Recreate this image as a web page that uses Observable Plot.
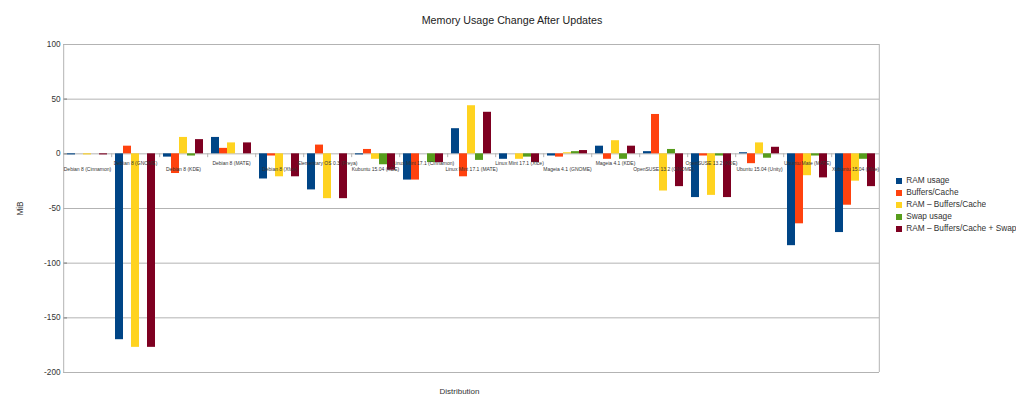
<!DOCTYPE html>
<html>
<head>
<meta charset="utf-8">
<script src="https://cdn.jsdelivr.net/npm/d3@7"></script>
<script src="https://cdn.jsdelivr.net/npm/@observablehq/plot@0.6"></script>
<style>
  html, body { margin: 0; padding: 0; background: #fff; }
  #wrap { position: relative; width: 1024px; height: 409px; font-family: "Liberation Sans", Arial, sans-serif; }
  #title { position: absolute; top: 14px; left: 0; width: 1024px; text-align: center; font-size: 10.7px; line-height: 13px; color: #222; }
  #legend { position: absolute; left: 896px; top: 175px; }
  #legend div { line-height: 11px; }
</style>
</head>
<body>
<div id="wrap">
  <div id="chart"></div>
  <div id="title">Memory Usage Change After Updates</div>
  <div id="legend"></div>
</div>
<script>
const categories = [
  "Debian 8 (Cinnamon)", "Debian 8 (GNOME)", "Debian 8 (KDE)", "Debian 8 (MATE)", "Debian 8 (Xfce)",
  "Elementary OS 0.3 (Freya)", "Kubuntu 15.04 (KDE)", "Linux Mint 17.1 (Cinnamon)", "Linux Mint 17.1 (MATE)",
  "Linux Mint 17.1 (Xfce)", "Mageia 4.1 (GNOME)", "Mageia 4.1 (KDE)", "OpenSUSE 13.2 (GNOME)",
  "OpenSUSE 13.2 (KDE)", "Ubuntu 15.04 (Unity)", "Ubuntu Mate (MATE)", "Xubuntu 15.04 (Xfce)"
];
const seriesNames = ["RAM usage", "Buffers/Cache", "RAM – Buffers/Cache", "Swap usage", "RAM – Buffers/Cache + Swap"];
const ramUsage        = [-1, -170, -3, 15, -23, -33, -1, -24, 23, -5, -2, 7, 2, -40, 1, -84, -72];
const buffersCache    = [0, 7, -18, 5, -2, 8, 4, -24, -21, 0, -3, -5, 36, -2, -9, -64, -47];
const ramMinusBuffers = [-1, -177, 15, 10, -21, -41, -5, 0, 44, -5, 1, 12, -34, -38, 10, -20, -25];
const swapUsage       = [0, 0, -2, 0, 0, 0, -10, -8, -6, -3, 2, -5, 4, -2, -4, -2, -5];
const ramBuffersSwap  = [-1, -177, 13, 10, -21, -41, -15, -8, 38, -8, 3, 7, -30, -40, 6, -22, -30];
const yTicks = [-200, -150, -100, -50, 0, 50, 100];
const colors = ["#004586", "#ff420e", "#ffd320", "#579d1c", "#7e0021"];

const seriesValues = [ramUsage, buffersCache, ramMinusBuffers, swapUsage, ramBuffersSwap];
const data = categories.flatMap((c, i) => seriesNames.map((s, j) => ({cat: c, series: s, value: seriesValues[j][i]})));
const lowRow = categories.filter((c, i) => i % 2 === 0);
const highRow = categories.filter((c, i) => i % 2 === 1);

const chart = Plot.plot({
  width: 1024,
  height: 409,
  marginLeft: 67,
  marginRight: 148,
  marginTop: 44,
  marginBottom: 37,
  style: {fontFamily: "'Liberation Sans', Arial, sans-serif", fontSize: "8.2px", color: "#333", background: "#fff"},
  fx: {domain: categories, padding: 0.16, axis: null},
  x: {domain: seriesNames, padding: 0, axis: null},
  y: {domain: [-200, 100], ticks: yTicks, tickFormat: d => String(d), label: "MiB", labelAnchor: "center", labelArrow: "none", labelOffset: 50, tickSize: 4, tickPadding: 3},
  color: {domain: seriesNames, range: colors},
  marks: [
    Plot.ruleY(yTicks, {stroke: "#b3b3b3", strokeOpacity: 1, insetLeft: -4, insetRight: -4}),
    Plot.ruleX([categories[0]], {fx: d => d, x: () => seriesNames[0], y1: -200, y2: 100, dx: -7.8, stroke: "#b3b3b3"}),
    Plot.ruleX([categories[categories.length - 1]], {fx: d => d, x: () => seriesNames[seriesNames.length - 1], y1: -200, y2: 100, dx: 7.8, stroke: "#b3b3b3"}),
    Plot.ruleX(categories.slice(1), {fx: d => d, x: () => seriesNames[0], y1: 0, y2: -3.5, dx: -7.8, stroke: "#b3b3b3"}),
    Plot.barY(data, {fx: "cat", x: "series", y: "value", fill: "series"}),
    Plot.text(lowRow, {fx: d => d, y: 0, text: d => d, dy: 16, fontSize: 5, fill: "#333"}),
    Plot.text(highRow, {fx: d => d, y: 0, text: d => d, dy: 9.5, fontSize: 5, fill: "#333"}),
    Plot.text(["Distribution"], {facet: "super", frameAnchor: "bottom", dx: -12, dy: 21, fontSize: 8, fill: "#333", text: d => d})
  ]
});
document.getElementById("chart").appendChild(chart);

const legend = Plot.legend({
  color: {domain: seriesNames, range: colors},
  legend: "swatches",
  columns: 1,
  swatchSize: 6,
  style: {fontFamily: "'Liberation Sans', Arial, sans-serif", fontSize: "8.3px", color: "#333"}
});
document.getElementById("legend").appendChild(legend);
</script>
</body>
</html>
